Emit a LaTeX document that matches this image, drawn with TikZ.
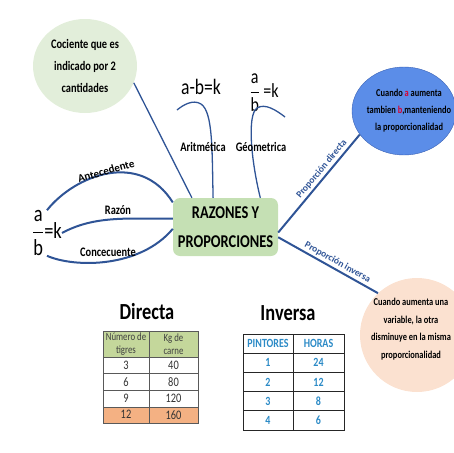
\documentclass[tikz,border=0pt]{standalone}
\usepackage{amsmath}
\usepackage{fontspec}
\setmainfont{Carlito}[FakeStretch=0.8]
\newfontfamily\rzpturned{Carlito}
\usepackage{tikz}
\usetikzlibrary{calc,positioning,shapes.geometric}
\definecolor{rzpblue}{HTML}{2F5496}
\definecolor{rzpgreen}{HTML}{C5E0B4}
\definecolor{rzppale}{HTML}{E2EEDA}
\definecolor{rzpsky}{HTML}{5B8DE8}
\definecolor{rzpskyline}{HTML}{3A62B5}
\definecolor{rzppeach}{HTML}{FBE1D0}
\definecolor{rzphead}{HTML}{C4D79B}
\definecolor{rzporange}{HTML}{F4B183}
\definecolor{rzpcyan}{HTML}{2B8AC6}
\definecolor{rzpred}{HTML}{D8002E}
\tikzset{
 rzp branch/.style={line width=2pt,rzpblue},
 rzp thin branch/.style={line width=1.3pt,rzpblue},
 rzp bubble/.style={ellipse,inner sep=0pt,align=center,
                    font=\bfseries\fontsize{10.5}{17}\selectfont},
 rzp box/.style={rectangle,rounded corners=7pt,fill=rzpgreen,align=center,
                 minimum width=105pt,minimum height=58pt,inner sep=0pt,
                 font=\bfseries\fontsize{18}{29}\selectfont},
 rzp label/.style={font=\bfseries\fontsize{13}{15}\selectfont,inner sep=1pt},
 rzp turned label/.style={font=\rzpturned\bfseries\fontsize{11}{13}\selectfont,inner sep=1pt},
 rzp small label/.style={font=\rzpturned\bfseries\fontsize{9.5}{11}\selectfont,inner sep=2pt},
 rzp formula/.style={font=\fontsize{22}{24}\selectfont,inner sep=0pt},
 rzp title/.style={font=\bfseries\fontsize{23}{25}\selectfont,inner sep=0pt},
 rzp head/.style={font=\fontsize{11}{13}\selectfont,text=black!75,align=center,inner sep=0pt},
 rzp cell/.style={font=\fontsize{13}{14}\selectfont,text=black!80,inner sep=0pt},
 rzp pcell/.style={font=\bfseries\fontsize{12.5}{14}\selectfont,text=rzpcyan,inner sep=0pt},
 rzp grid/.style={line width=.6pt,black!65},
 rzp pgrid/.style={line width=.8pt,black!85}
}
\begin{document}
\begin{tikzpicture}[x=1pt,y=-1pt]
 \useasboundingbox (0,0) rectangle (453,453);
 \node[rzp bubble,fill=rzppale,minimum width=104pt,minimum height=94pt,
       font=\bfseries\fontsize{13}{22}\selectfont] (cociente) at (85,66)
   {Cociente que es\\indicado por 2\\cantidades};
 \node[rzp box] (razones) at (225.5,227) {RAZONES Y\\PROPORCIONES};
 \node[rzp bubble,fill=rzpsky,draw=rzpskyline,minimum width=104pt,minimum height=88pt]
   (directa) at (404,111) {};
 \node[rzp bubble] (directa text) at (409,111)
   {Cuando \textcolor{rzpred}{a} aumenta\\tambien \textcolor{rzpred}{b},manteniendo\\la proporcionalidad};
 \node[rzp bubble,fill=rzppeach,minimum width=114pt,minimum height=114pt]
   (inversa) at (417,335) {};
 \node[rzp bubble,font=\bfseries\fontsize{10.5}{17.5}\selectfont] (inversa text) at (411,329)
   {Cuando aumenta una\\variable, la otra\\disminuye en la misma\\proporcionalidad};

 \node[rzp formula] (resta) at (201,87) {a-b=k};
 \node[rzp formula,font=\fontsize{20}{22}\selectfont] (geo) at (264,93)
   {$\dfrac{\text{a}}{\text{b}}$\,=k};
 \node[rzp formula,font=\fontsize{23}{24}\selectfont] (razon) at (47,233)
   {$\dfrac{\text{a}}{\text{b}}$=k};
 \coordinate (arit end) at (177,110);
 \coordinate (geo end) at (285,117);

 \draw[rzp thin branch] (cociente.-19) -- (razones.139);
 \draw[rzp thin branch] (razones.113) .. controls (212,150) and (213,112) .. (201,104)
   .. controls (193,99) and (183,105) .. (arit end);
 \draw[rzp thin branch] (razones.40) .. controls (251,160) and (247,115) .. (257,108)
   .. controls (265,103) and (276,110) .. (geo end);
 \node[rzp label] (aritmetica) at (203,147) {Aritmética};
 \node[rzp label] (geometrica) at (261,147) {Géometrica};

 \draw[rzp branch] (razon.north) .. controls (75,175) and (140,150) .. (razones.155);
 \draw[rzp branch] (razon.east) .. controls (95,215) and (130,219) .. (razones.171);
 \draw[rzp branch] (razon.south) .. controls (75,268) and (140,268) .. (razones.182);
 \node[rzp turned label,rotate=16] (antecedente) at (106,171) {Antecedente};
 \node[rzp label] (razon label) at (118,210) {Razón};
 \node[rzp label] (concecuente) at (108,252) {Concecuente};

 \draw[rzp branch] (razones.-6) --
   node[rzp small label,sloped,above,pos=.6] {Proporción directa} (directa.208);
 \draw[rzp branch] (razones.-11) --
   node[rzp small label,sloped,above,pos=.56] {Proporción inversa} (inversa.133);

 \node[rzp title] (directa title) at (147,312) {Directa};
 \fill[rzphead] (103,331) rectangle (198,357);
 \fill[rzporange] (103,407) rectangle (198,423);
 \draw[rzp grid] (103,331) rectangle (198,423);
 \draw[rzp grid] (149,331) -- (149,423);
 \foreach \y in {357,373,390,407} \draw[rzp grid] (103,\y) -- (198,\y);
 \node[rzp head] (tigres) at (126,344) {Número de\\tigres};
 \node[rzp head] (carne) at (173.5,344) {Kg de\\carne};
 \foreach \n/\a/\b in {1/3/40,2/6/80,3/9/120,4/12/160} {
   \node[rzp cell] (tig\n) at (126,348.75+16.5*\n) {\a};
   \node[rzp cell] (kg\n) at (173.5,348.75+16.5*\n) {\b};
 }

 \node[rzp title] (inversa title) at (288,313) {Inversa};
 \draw[rzp pgrid] (243,334) rectangle (344,430);
 \draw[rzp pgrid] (293,334) -- (293,430);
 \foreach \n in {1,...,4} \draw[rzp pgrid] (243,334+19.2*\n) -- (344,334+19.2*\n);
 \node[rzp pcell] (pintores) at (268,343.6) {PINTORES};
 \node[rzp pcell] (horas) at (318.5,343.6) {HORAS};
 \foreach \n/\a/\b in {1/1/24,2/2/12,3/3/8,4/4/6} {
   \node[rzp pcell] (pin\n) at (268,343.6+19.2*\n) {\a};
   \node[rzp pcell] (hor\n) at (318.5,343.6+19.2*\n) {\b};
 }
\end{tikzpicture}
\end{document}
